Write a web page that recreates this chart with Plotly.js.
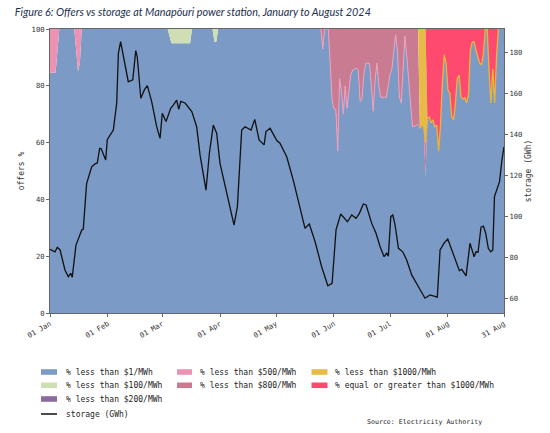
<!DOCTYPE html>
<html>
<head>
<meta charset="utf-8">
<script src="https://cdn.plot.ly/plotly-3.0.1.min.js"></script>
<style>
html,body{margin:0;padding:0;background:#ffffff;}
#chart{width:550px;height:433px;}
</style>
</head>
<body>
<div id="chart"></div>
<script>
// ---------- DATA ----------
// day offsets from 2024-01-01
const stackDays = [0,3,5,13,15,16,17,63,65,75,76,87,88,89,90,145,146,147,149,
  151,152,153,154,155,156,157,158,159,160,
  161,162,163,164,165,166,167,168,169,170,
  171,172,173,174,175,176,177,178,179,180,
  181,182,183,184,185,186,187,188,189,190,
  191,192,193,194,195,196,197,198,199,200,
  201,202,203,204,205,206,207,208,209,210,
  211,212,213,214,215,216,217,218,219,220,
  221,222,223,224,225,226,227,228,229,230,
  231,232,233,234,235,236,237,238,239,240,
  241,242,243];

// % offered at less than $1/MWh (on stackDays)
const pctBelow1 = [84.6,84.6,100,100,85,88,100,100,95,95,100,100,95.5,95.5,100,100,93,100,100,
  75,72,71.5,57,82.6,78,70,80,72,78.5,
  84,85.5,86,86.2,85.6,74.4,75.5,84,88,88,
  88,80,71,82,88,80,76,76,76,76,
  80,84,86,91,98,92,76,74,88,97.5,
  90,82.5,75,65.6,65.8,66,66.5,65,66,66,
  48,68.5,69,67,68,65.6,66,57,66,81,
  91,88,78.5,77.4,69,68,74,82.6,83.8,76,
  75.4,75.8,74,77,92.6,95.5,95.5,92.5,90,88,
  87.3,91.4,100,100,85,74,86,74,90,100,
  100,100,100];

// other bands: only the days on which they are present
const pct100Days = [65,75,88,89];
const pct100Vals = [5,5,4.5,4.5];
const pct200Days = [];
const pct200Vals = [];
const pct500Days = [0,3,15,16];
const pct500Vals = [15.4,15.4,15,12];
const pct800Days = [146,151,152,153,154,155,156,157,158,159,160,
  161,162,163,164,165,166,167,168,169,170,
  171,172,173,174,175,176,177,178,179,180,
  181,182,183,184,185,186,187,188,189,190,
  191,192,193,194,195,196,197,201];
const pct800Vals = [7,25,28,28.5,43,17.4,22,30,20,28,21.5,
  16,14.5,14,13.8,14.4,25.6,24.5,16,12,12,
  12,20,29,18,12,20,24,24,24,24,
  20,16,14,9,2,8,24,26,12,2.5,
  10,17.5,25,34.4,34.2,34,33.5,12];
const pct1000Days = [198,199,200,201];
const pct1000Vals = [35,34,34,40];
const pctOver1000Days = [202,203,204,205,206,207,208,209,210,
  211,212,213,214,215,216,217,218,219,220,
  221,222,223,224,225,226,227,228,229,230,
  231,232,235,236,237,238,239];
const pctOver1000Vals = [31.5,31,33,32,34.4,34,43,34,19,
  9,12,21.5,22.6,31,32,26,17.4,16.2,24,
  24.6,24.2,26,23,7.4,4.5,4.5,7.5,10,12,
  12.7,8.6,15,26,14,26,10];

// storage (GWh)
const storageDays = [0,2.7,3.9,5.4,8,9.8,11.1,11.9,13.9,17,17.8,19.6,22.3,24.1,25.3,26.6,27.4,29.8,
  30.7,32.1,33.9,35.7,36.6,37.8,40.1,41.9,44.3,45.9,46.7,48.6,50.5,52.1,54.4,57.1,58.9,
  60.1,62.1,64.6,66,67.8,68.9,70,72.3,75.9,78.5,80.3,83.5,85.3,87.4,89.2,
  91,94.6,98.5,100.3,102.6,104.4,107.6,109.6,111.9,114.6,115.6,117.8,119.9,
  121.4,123.1,126.7,130.2,133.8,136.5,138.8,141.9,145.4,148.7,151,
  153.1,155.6,159.2,161.5,163.8,165.6,167.7,169.2,172.2,174.5,176.7,178.8,180.2,181.1,
  182.4,183.5,184.7,186.5,188.8,190.9,193.6,197.2,200.7,203.4,206.6,207.3,
  208.8,210.9,212.9,214.1,216.3,219.1,220.4,222.7,224.8,227,228,229.1,230.7,232,233.2,
  234.6,235.9,237,237.9,239.2,240.6,241.9,243];
const storageGWh = [83.8,82.6,84.8,83.5,73.7,70.4,72.1,70.1,85.9,93.3,93.6,116,124.2,125.6,126,133.2,133,127.5,
  137.6,139.7,142.2,155.3,179.7,185.4,174,165.8,166.7,181,178,157.7,161.8,163.9,156.2,143.8,138.1,
  150.4,146.3,152.8,154.4,156.8,152.3,156.2,155.4,151.2,143.8,130,112.8,130.8,144.6,140.6,
  125.9,111.2,95.7,104.7,142.2,143.8,142.2,147.4,137.3,134.9,141.4,143,139.7,
  137,135.7,129.1,117.7,104.7,94.1,96.2,87.5,75.3,66,67.2,
  93.3,101.1,97.3,100.6,99,101.4,106,105.5,96.5,91.7,85.1,80.2,81.9,80.5,
  99.8,100.6,95.7,84.3,82.6,78.6,71.3,65.5,59.9,61.5,60.6,60.4,
  83.5,86.8,88.9,85.9,80.2,73.4,74,70.8,86.8,80.2,82.6,82.4,94.6,95.2,91.7,
  84.3,82.6,83.5,109.6,112.8,116.9,127.5,134];

const tickDays = [0,31,60,91,121,152,182,213,243];
const tickLabels = ['01 Jan','01 Feb','01 Mar','01 Apr','01 May','01 Jun','01 Jul','01 Aug','31 Aug'];
const leftTicks = [0,20,40,60,80,100];
const rightTicks = [60,80,100,120,140,160,180];

const bandNames = ['% less than $1/MWh','% less than $100/MWh','% less than $200/MWh','% less than $500/MWh',
  '% less than $800/MWh','% less than $1000/MWh','% equal or greater than $1000/MWh'];
const bandColors = ['#7b9ac5','#cfdfb3','#8a6d9e','#ec93b3','#c97b91','#e6bb46','#fd4a6e'];
const storageName = 'storage (GWh)';
const titleText = 'Figure 6: Offers vs storage at Manapōuri power station, January to August 2024';
const sourceText = 'Source: Electricity Authority';

// ---------- BUILD ----------
function dayToDate(d){
  const dt = new Date(Date.UTC(2024,0,1) + Math.round(d*86400000));
  return dt.toISOString().slice(0,19).replace('T',' ');
}
function expand(days, vals){
  return stackDays.map(d => { const i = days.indexOf(d); return i < 0 ? 0 : vals[i]; });
}
const bands = [
  pctBelow1,
  expand(pct100Days,pct100Vals),
  expand(pct200Days,pct200Vals),
  expand(pct500Days,pct500Vals),
  expand(pct800Days,pct800Vals),
  expand(pct1000Days,pct1000Vals),
  expand(pctOver1000Days,pctOver1000Vals)
];
const xStack = stackDays.map(dayToDate);

const traces = bands.map((vals,k) => ({
  type:'scatter', mode:'lines', x:xStack, y:vals, name:bandNames[k],
  stackgroup:'offers', line:{width:0, color:bandColors[k]}, fillcolor:bandColors[k],
  hoverinfo:'skip', showlegend:false
}));

// cumulative boundaries, used for the thin outline lines seen in the picture
function cumulative(upTo){
  return stackDays.map((d,i) => { let s=0; for(let k=0;k<=upTo;k++) s+=bands[k][i]; return s; });
}
const cum500 = cumulative(3);
const cum800 = cumulative(4);
const edgeA = [], edgeAy = [], edgeB = [], edgeBy = [];
stackDays.forEach((d,i) => {
  if (d >= 145 && d <= 197) { edgeA.push(dayToDate(d)); edgeAy.push(cum500[i]); }
  if (d >= 198 && d <= 240) { edgeB.push(dayToDate(d)); edgeBy.push(cum800[i]); }
});
traces.push({type:'scatter',mode:'lines',x:edgeA,y:edgeAy,line:{color:'#eda2bd',width:1},hoverinfo:'skip',showlegend:false});
traces.push({type:'scatter',mode:'lines',x:edgeB,y:edgeBy,line:{color:'#eab33a',width:1.3},hoverinfo:'skip',showlegend:false});

traces.push({
  type:'scatter', mode:'lines', x:storageDays.map(dayToDate), y:storageGWh, name:storageName,
  yaxis:'y2', line:{color:'#111111', width:1.3}, hoverinfo:'skip', showlegend:false
});

// ---------- LAYOUT ----------
const L = 50, R = 504, T = 29, B = 313;
const px = v => (v - L)/(R - L);
const py = v => (B - v)/(B - T);
const mono = 'DejaVu Sans Mono, monospace';

const shapes = [];
const annotations = [];
function patch(x0,x1,yc,color){
  shapes.push({type:'rect',xref:'paper',yref:'paper',x0:px(x0),x1:px(x1),y0:py(yc+2.8),y1:py(yc-2.8),
    fillcolor:color,line:{width:0}});
}
function label(x,yc,text,size){
  annotations.push({xref:'paper',yref:'paper',x:px(x),y:py(yc),xanchor:'left',yanchor:'middle',
    text:text,showarrow:false,font:{family:mono,size:size||8,color:'#222222'}});
}
const legendRows = [372,385.3,399,414];
const legendCols = [[41,57,64],[177,192,198],[311.5,327.5,333]];
const legendPlace = [[0,0],[0,1],[0,2],[1,0],[1,1],[2,0],[2,1]];
legendPlace.forEach((p,k) => {
  const c = legendCols[p[0]], r = legendRows[p[1]];
  patch(c[0],c[1],r,bandColors[k]);
  label(c[2],r,bandNames[k]);
});
shapes.push({type:'line',xref:'paper',yref:'paper',x0:px(41),x1:px(57),y0:py(414),y1:py(414),
  line:{color:'#111111',width:1.5}});
label(64,414,storageName);
label(365,421.5,sourceText,6.6);

const axisCommon = {
  showgrid:false, zeroline:false, showline:true, linecolor:'#666666', linewidth:1,
  ticks:'outside', ticklen:3, tickcolor:'#666666',
  tickfont:{family:mono,size:7.2,color:'#333333'}
};

const layout = {
  width:550, height:433,
  margin:{l:L, r:550-R, t:T, b:433-B, pad:0},
  paper_bgcolor:'#ffffff', plot_bgcolor:'#ffffff',
  showlegend:false,
  title:{text:titleText, xref:'container', yref:'container', x:0.027, xanchor:'left',
    y:0.971, yanchor:'middle',
    font:{family:'Lato, sans-serif', size:10.8, style:'italic', color:'#22304f'}},
  xaxis:Object.assign({}, axisCommon, {
    type:'date', range:[dayToDate(0), dayToDate(243)], mirror:true,
    tickmode:'array', tickvals:tickDays.map(dayToDate), ticktext:tickLabels, tickangle:-30
  }),
  yaxis:Object.assign({}, axisCommon, {
    range:[0,100], tickmode:'array', tickvals:leftTicks,
    title:{text:'offers %', font:{family:mono,size:8,color:'#333333'}, standoff:5}
  }),
  yaxis2:Object.assign({}, axisCommon, {
    overlaying:'y', side:'right', range:[52.66,191.6], tickmode:'array', tickvals:rightTicks,
    title:{text:'storage (GWh)', font:{family:mono,size:8,color:'#333333'}, standoff:3}
  }),
  shapes:shapes,
  annotations:annotations
};

Plotly.newPlot('chart', traces, layout, {staticPlot:true, displayModeBar:false});
</script>
</body>
</html>
